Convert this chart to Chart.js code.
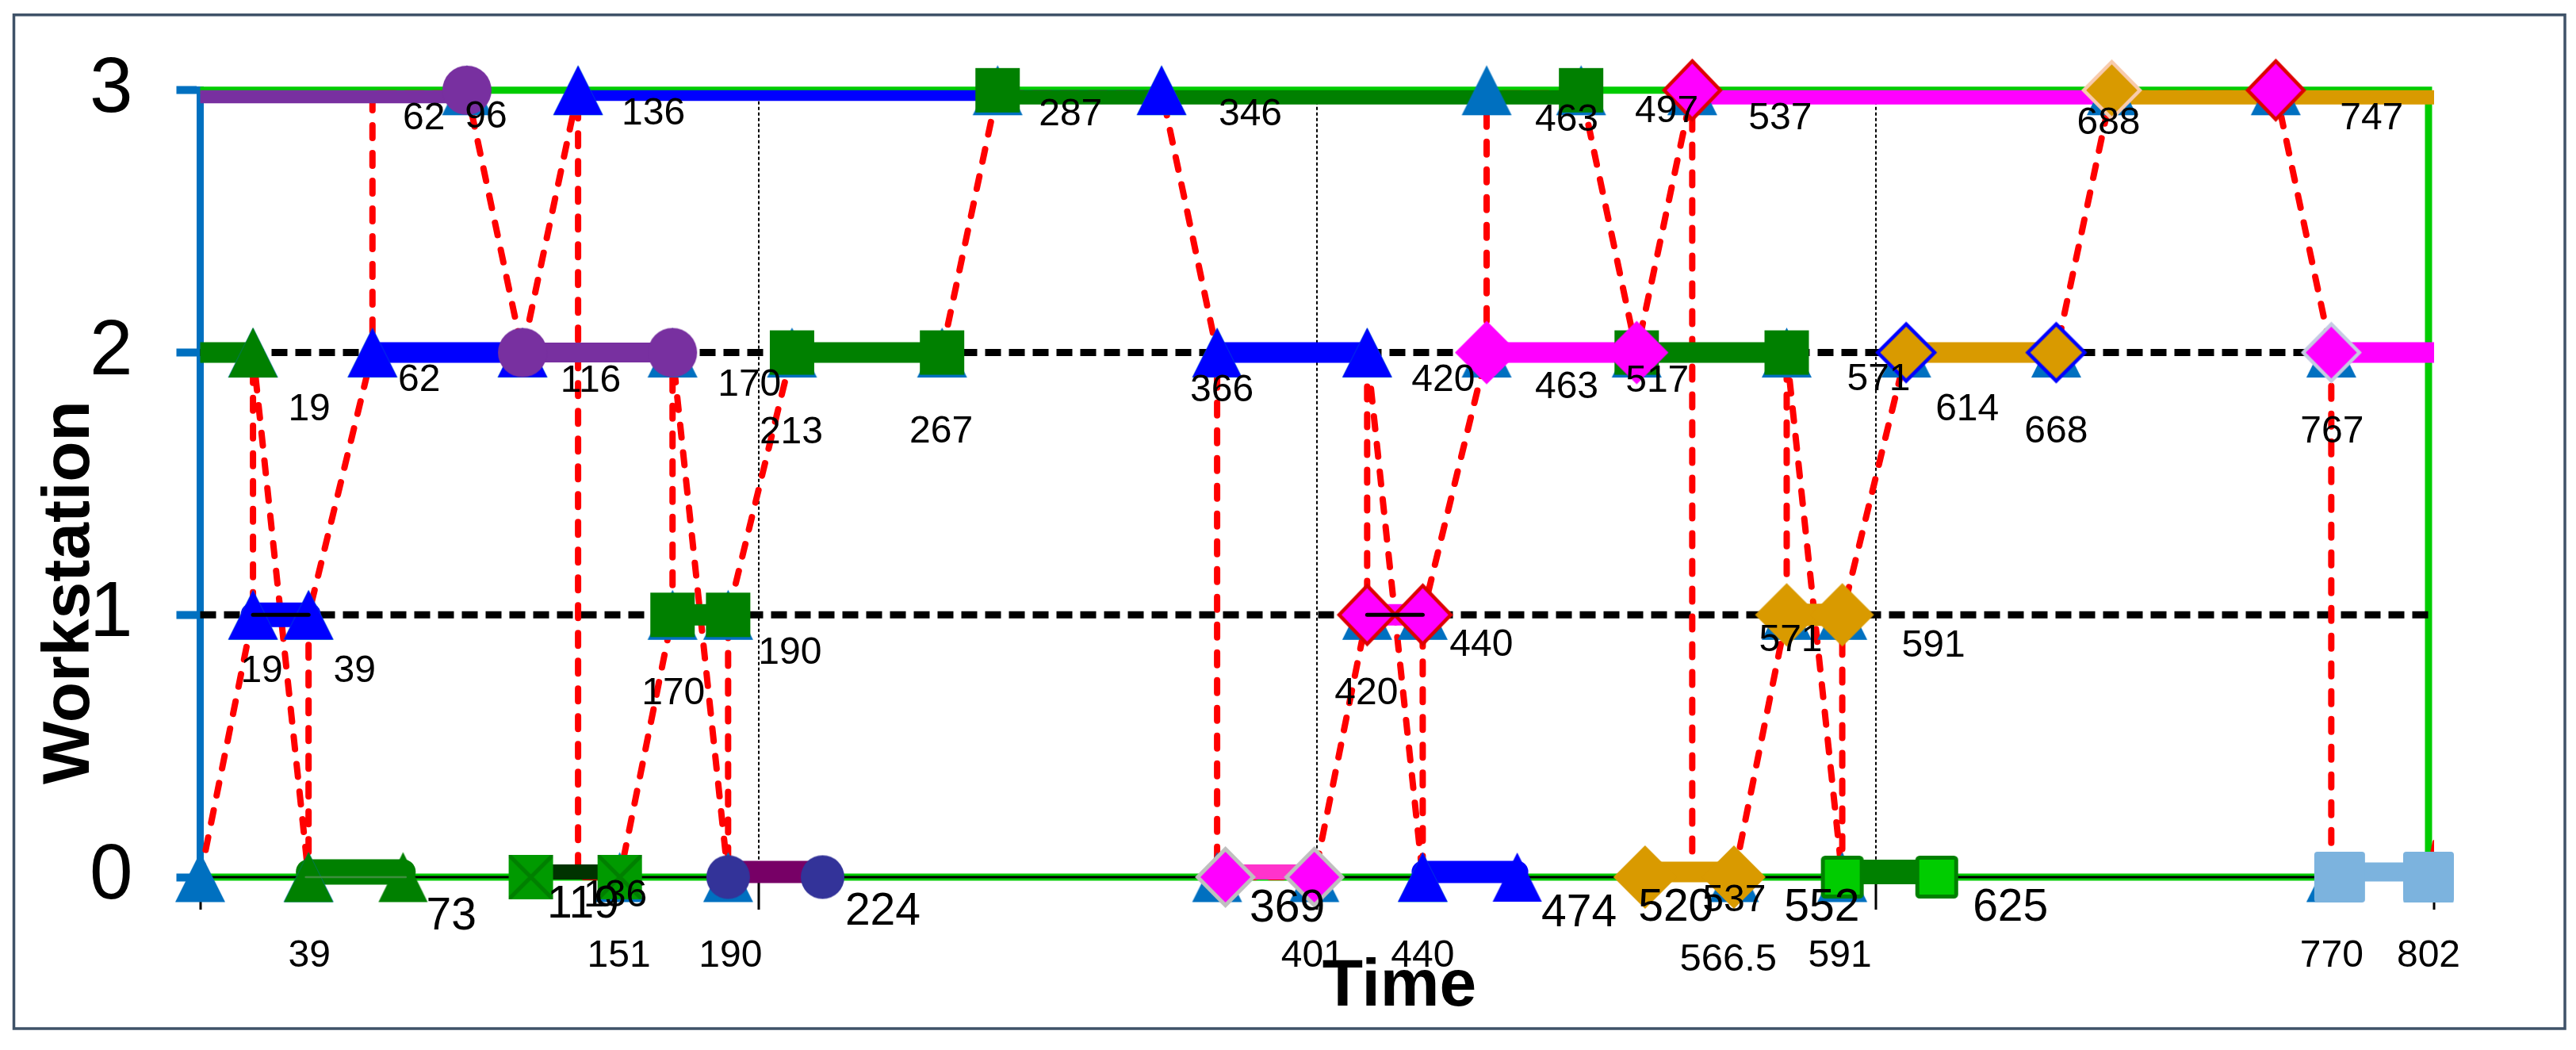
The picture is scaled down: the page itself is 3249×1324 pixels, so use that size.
<!DOCTYPE html>
<html>
<head>
<meta charset="utf-8">
<script src="https://cdn.jsdelivr.net/npm/chart.js@4.4.1/dist/chart.umd.min.js"></script>
<style>
html,body{margin:0;padding:0;background:#fff;}
#wrap{width:3249px;height:1324px;position:relative;}
</style>
</head>
<body>
<div id="wrap"><canvas id="c"></canvas></div>
<script>
// ================= DATA =================
const yTickLabels = ['0', '1', '2', '3'];
const xMin = 0, xMax = 804, xStep = 200;

// Robot route (red dashed path, triangle markers)
const robotTime    = [0, 19, 19, 39, 39, 62, 62, 96, 116, 136, 136, 151, 170, 170, 190, 190, 213, 267, 287, 346, 366, 366, 401, 420, 420, 440, 440, 463, 463, 497, 517, 537, 537, 552, 571, 571, 591, 591, 614, 668, 688, 747, 767, 767, 802, 821];
const robotStation = [0, 1, 2, 0, 1, 2, 3, 3, 2, 3, 0, 0, 1, 2, 0, 1, 2, 2, 3, 3, 2, 0, 0, 1, 2, 0, 1, 2, 3, 3, 2, 3, 0, 0, 1, 2, 0, 1, 2, 2, 3, 3, 2, 0, 0, 1];
const robotHasMarker = [1, 1, 1, 1, 1, 1, 0, 1, 1, 1, 0, 1, 1, 1, 1, 1, 1, 1, 1, 1, 1, 1, 1, 1, 1, 1, 1, 1, 1, 1, 1, 1, 0, 1, 1, 1, 1, 1, 1, 1, 1, 1, 1, 1, 1, 1];

// Processing bars (job on a workstation)
const barStart = [0, 136, 287, 537, 688,   0, 62, 116, 213, 366, 463, 517, 614, 767,   19, 170, 420, 571,   39, 119, 190, 369, 440, 520, 591, 770];
const barEnd   = [96, 346, 497, 688, 804,  19, 116, 170, 267, 420, 517, 571, 668, 804,  39, 190, 440, 591,   73, 151, 224, 401, 474, 552, 625, 802];
const barLevel = [3, 3, 3, 3, 3,  2, 2, 2, 2, 2, 2, 2, 2, 2,  1, 1, 1, 1,  0.02, 0.02, 0.02, 0.02, 0.02, 0.02, 0.02, 0.02];

// Job markers
const markTime    = [96, 136, 346, 287, 497, 537, 688, 747,
                     19, 62, 116, 116, 170, 213, 267, 366, 420, 463, 517, 517, 571, 614, 668, 767,
                     19, 39, 170, 190, 420, 440, 571, 591,
                     39, 73, 119, 151, 190, 224, 369, 401, 440, 474, 520, 552, 591, 625, 770, 802];
const markStation = [3, 3, 3, 3, 3, 3, 3, 3,
                     2, 2, 2, 2, 2, 2, 2, 2, 2, 2, 2, 2, 2, 2, 2, 2,
                     1, 1, 1, 1, 1, 1, 1, 1,
                     0, 0, 0, 0, 0, 0, 0, 0, 0, 0, 0, 0, 0, 0, 0, 0];

// Thin connecting lines
const thinStart = [19, 420, 38];
const thinEnd   = [39, 440, 74];
const thinLevel = [1, 1, 0];

// Frame (cycle) line and workstation guide lines
const frameTime    = [0, 802, 802, 0];
const frameStation = [3, 3, 0, 0];
const guideLevels  = [1, 2];
const guideStart = 0, guideEnd = 802;

// Data labels (text = time value), station of the labelled point
const labelText = ['62','96','136','287','346','463','497','537','688','747',
  '19','62','116','170','213','267','366','420','463','517','571','614','668','767',
  '19','39','170','190','420','440','571','591',
  '39','73','119','136','151','190','224','369','401','440','474','520','537','552','566.5','591','625','770','802'];
const labelStation = [3,3,3,3,3,3,3,3,3,3,
  2,2,2,2,2,2,2,2,2,2,2,2,2,2,
  1,1,1,1,1,1,1,1,
  0,0,0,0,0,0,0,0,0,0,0,0,0,0,0,0,0,0,0];

// ================= STYLE / LAYOUT =================
const barColor = ['#7830A0','#0000FF','#008000','#FF00FF','#D99A00',
  '#008000','#0000FF','#7830A0','#008000','#0000FF','#FF00FF','#008000','#D99A00','#FF00FF',
  '#0000FF','#008000','#FF00FF','#D99A00',
  '#008000','#003300','#770066','#FF33CC','#0000FF','#D99A00','#008000','#7CB3DE'];
const barWidth = [33, 27, 36, 36, 36,  26, 26, 25, 26, 26, 26, 26, 26, 26,  31, 27, 27, 28,  32, 19, 28, 19, 28, 26, 31, 24];

const markKind = ['circPurple','triBlue','triBlue','sqGreen','sqGreen','diaMagRed','diaGoldPink','diaMagRed',
  'triDkGreen','triBlue','triBlue','circPurple','circPurple','sqGreen','sqGreen','triBlue','triBlue','diaMag','sqGreen','diaMag','sqGreen','diaGoldBlue','diaGoldBlue','diaMagLav',
  'triBlue','triBlue','sqGreen','sqGreen','diaMagRed','diaMagRed','diaGold','diaGold',
  'triDkGreen','triDkGreen','sqX','sqX','circNavy','circNavy','diaMagGray','diaMagGray','triBlue','triBlue','diaGold','diaGold','sqLime','sqLime','sqLtBlue','sqLtBlue'];

const thinColor = ['#000000', '#000000', '#3E8E3E'];
const thinWidth = [5, 5, 2.5];

const labelDX = [65,24,95,92,112,101,108,111,-4,121,
  71,59,86,97,-1,-1,6,96,101,26,116,77,0,1,
  11,58,1,78,-1,74,5,115,
  1,61,66,47,-1,3,76,78,-2,0,78,39,53,111,-58,-3,93,-10,0];
const labelDY = [32,30,26.5,27,27,34.5,23.5,32.5,38.5,32.5,
  68,31,32,37,97,96.5,44,31,40,32,30,68,96,96,
  67.5,67.5,95.5,44.5,95.5,34.5,29,35.5,
  96,46,31,19.5,96,96,40,36,96,96,42,35,25.7,35,100,96,35,96,96];
const labelSize = [48,48,48,48,48,48,48,48,48,48,
  48,48,48,48,48,48,48,48,48,48,48,48,48,48,
  48,48,48,48,48,48,48,48,
  48,57,57,48,48,48,57,57,48,48,57,57,48,57,49,48,57,48,48];

const FONT = '"Liberation Sans", Arial, Helvetica, sans-serif';

// ---- marker images ----
function makeMarker(o) {
  const pad = 4;
  const c = document.createElement('canvas');
  c.width = Math.ceil(o.w + 2 * pad);
  c.height = Math.ceil(o.h + 2 * pad);
  const g = c.getContext('2d');
  const cx = c.width / 2, cy = c.height / 2;
  const lw = o.lw || 0;
  g.beginPath();
  if (o.shape === 'tri') {
    g.moveTo(cx, cy - o.h / 2);
    g.lineTo(cx + o.w / 2, cy + o.h / 2);
    g.lineTo(cx - o.w / 2, cy + o.h / 2);
    g.closePath();
  } else if (o.shape === 'dia') {
    const iw = o.w / 2 - lw * 0.7, ih = o.h / 2 - lw * 0.7;
    g.moveTo(cx, cy - ih); g.lineTo(cx + iw, cy); g.lineTo(cx, cy + ih); g.lineTo(cx - iw, cy);
    g.closePath();
  } else if (o.shape === 'circ') {
    g.ellipse(cx, cy, o.w / 2, o.h / 2, 0, 0, Math.PI * 2);
  } else if (o.shape === 'sq') {
    const iw = o.w - lw, ih = o.h - lw, r = o.r || 0;
    const x0 = cx - iw / 2, y0 = cy - ih / 2;
    if (g.roundRect) g.roundRect(x0, y0, iw, ih, r); else g.rect(x0, y0, iw, ih);
  }
  g.fillStyle = o.fill;
  g.fill();
  if (o.x) {
    g.save(); g.clip();
    g.beginPath();
    g.moveTo(cx - o.w / 2, cy - o.h / 2); g.lineTo(cx + o.w / 2, cy + o.h / 2);
    g.moveTo(cx + o.w / 2, cy - o.h / 2); g.lineTo(cx - o.w / 2, cy + o.h / 2);
    g.lineWidth = 5; g.strokeStyle = o.x; g.stroke();
    g.restore();
  }
  if (lw) {
    g.lineWidth = lw; g.strokeStyle = o.stroke; g.lineJoin = 'miter'; g.stroke();
  }
  return c;
}

const markerStyles = {
  triBase:     { img: makeMarker({shape:'tri', w:63, h:63, fill:'#0070C0'}), order: 50 },
  triBlue:     { img: makeMarker({shape:'tri', w:62, h:62, fill:'#0000FF'}), order: 46 },
  triDkGreen:  { img: makeMarker({shape:'tri', w:62, h:63, fill:'#008000'}), order: 46 },
  sqGreen:     { img: makeMarker({shape:'sq', w:56, h:56, fill:'#008000'}), order: 45 },
  sqX:         { img: makeMarker({shape:'sq', w:56, h:56, fill:'#009A00', x:'#007F00'}), order: 45 },
  sqLime:      { img: makeMarker({shape:'sq', w:54, h:54, fill:'#00CC00', stroke:'#008000', lw:5, r:3}), order: 45 },
  sqLtBlue:    { img: makeMarker({shape:'sq', w:64, h:64, fill:'#7CB3DE', r:4}), order: 45 },
  circPurple:  { img: makeMarker({shape:'circ', w:62, h:62, fill:'#7830A0'}), order: 44 },
  circNavy:    { img: makeMarker({shape:'circ', w:55, h:55, fill:'#333399'}), order: 44 },
  diaMag:      { img: makeMarker({shape:'dia', w:80, h:80, fill:'#FF00FF'}), order: 43 },
  diaMagRed:   { img: makeMarker({shape:'dia', w:77, h:80, fill:'#FF00FF', stroke:'#DD0000', lw:4.5}), order: 43 },
  diaMagGray:  { img: makeMarker({shape:'dia', w:77, h:78, fill:'#FF00FF', stroke:'#BFBFBF', lw:5}), order: 43 },
  diaMagLav:   { img: makeMarker({shape:'dia', w:77, h:78, fill:'#FF00FF', stroke:'#C5CAE3', lw:4.5}), order: 43 },
  diaGold:     { img: makeMarker({shape:'dia', w:80, h:80, fill:'#D99A00'}), order: 43 },
  diaGoldBlue: { img: makeMarker({shape:'dia', w:78, h:78, fill:'#D99A00', stroke:'#0000FF', lw:4.5}), order: 43 },
  diaGoldPink: { img: makeMarker({shape:'dia', w:77, h:78, fill:'#D99A00', stroke:'#F8CBAD', lw:4.5}), order: 43 }
};

// ================= DATASETS =================
const datasets = [];
const topClip = {left: 0, top: 0, right: 0, bottom: false};

// frame line
datasets.push({
  data: frameTime.map((t, i) => ({x: t, y: frameStation[i]})),
  borderColor: '#00CC00', borderWidth: 9, pointRadius: 0, borderJoinStyle: 'miter',
  clip: false, order: 100
});
// black axis line at station 0
datasets.push({
  data: [{x: guideStart, y: 0}, {x: guideEnd, y: 0}],
  borderColor: '#000000', borderWidth: 3, pointRadius: 0, clip: false, order: 95
});
// dashed guide lines
guideLevels.forEach(l => datasets.push({
  data: [{x: guideStart, y: l}, {x: guideEnd, y: l}],
  borderColor: '#000000', borderWidth: 9, borderDash: [20, 10], pointRadius: 0,
  clip: false, order: 90
}));
// robot path
datasets.push({
  data: robotTime.map((t, i) => ({x: t, y: robotStation[i]})),
  borderColor: '#FF0000', borderWidth: 8, borderDash: [16, 19], borderCapStyle: 'round',
  borderJoinStyle: 'round', pointRadius: 0, clip: topClip, order: 80
});
// bars
barStart.forEach((s, i) => datasets.push({
  data: [{x: s, y: barLevel[i]}, {x: barEnd[i], y: barLevel[i]}],
  borderColor: barColor[i], borderWidth: barWidth[i], borderCapStyle: 'round',
  pointRadius: 0, clip: topClip, order: 70 - i * 0.01
}));
// robot triangle markers
datasets.push({
  data: robotTime.map((t, i) => ({x: t, y: robotStation[i]})),
  showLine: false, pointStyle: markerStyles.triBase.img,
  pointRadius: ctx => robotHasMarker[ctx.dataIndex] ? 30 : 0,
  pointBorderWidth: 0, clip: false, order: markerStyles.triBase.order
});
// job markers grouped by kind
Object.keys(markerStyles).filter(k => k !== 'triBase').forEach(k => {
  const pts = [];
  markTime.forEach((t, i) => { if (markKind[i] === k) pts.push({x: t, y: markStation[i]}); });
  if (!pts.length) return;
  datasets.push({
    data: pts, showLine: false, pointStyle: markerStyles[k].img,
    pointRadius: 30, pointBorderWidth: 0, clip: false, order: markerStyles[k].order
  });
});
// thin lines on top
thinStart.forEach((s, i) => datasets.push({
  data: [{x: s, y: thinLevel[i]}, {x: thinEnd[i], y: thinLevel[i]}],
  borderColor: thinColor[i], borderWidth: thinWidth[i], borderCapStyle: 'round',
  pointRadius: 0, clip: false, order: 10
}));

// ================= PLUGINS =================
const paperPlugin = {
  id: 'paper',
  beforeDraw(chart) {
    const {ctx} = chart;
    ctx.save();
    ctx.fillStyle = '#FFFFFF';
    ctx.fillRect(0, 0, chart.width, chart.height);
    ctx.restore();
  },
  afterDraw(chart) {
    const {ctx} = chart;
    ctx.save();
    ctx.strokeStyle = '#3F5268';
    ctx.lineWidth = 3.5;
    ctx.strokeRect(17.5, 18.75, 3217.5, 1278.25);
    ctx.restore();
  }
};

const labelPlugin = {
  id: 'pointLabels',
  afterDatasetsDraw(chart) {
    const {ctx} = chart;
    const xs = chart.scales.x, ys = chart.scales.y;
    ctx.save();
    ctx.fillStyle = '#000000';
    ctx.textAlign = 'center';
    ctx.textBaseline = 'alphabetic';
    labelText.forEach((txt, i) => {
      const size = labelSize[i];
      ctx.font = size + 'px ' + FONT;
      const px = xs.getPixelForValue(Number(txt)) + labelDX[i];
      const py = ys.getPixelForValue(labelStation[i]) + labelDY[i] + 0.358 * size;
      ctx.fillText(txt, px, py);
    });
    // axis titles
    ctx.font = 'bold 84px ' + FONT;
    ctx.fillText('Time', 1765, 1268);
    ctx.translate(112, 747);
    ctx.rotate(-Math.PI / 2);
    ctx.fillText('Workstation', 0, 0);
    ctx.restore();
  }
};

// ================= CHART =================
new Chart(document.getElementById('c'), {
  type: 'line',
  data: { datasets },
  options: {
    responsive: true,
    maintainAspectRatio: false,
    animation: false,
    devicePixelRatio: 1,
    events: [],
    layout: { padding: { left: 0, right: 179, top: 108.5, bottom: 0 } },
    plugins: { legend: { display: false }, tooltip: { enabled: false }, title: { display: false } },
    scales: {
      x: {
        type: 'linear', min: xMin, max: xMax,
        afterFit: s => { s.height = 218; },
        ticks: { display: false, stepSize: xStep, includeBounds: false },
        grid: {
          color: c => (c.tick && (c.tick.value <= 0 || c.tick.value >= 800)) ? 'rgba(0,0,0,0)' : '#000000',
          lineWidth: 2, tickColor: '#000000', tickWidth: 3, tickLength: 41, tickBorderDash: []
        },
        border: { display: false, dash: [4, 3] }
      },
      y: {
        type: 'linear', min: 0, max: 3,
        afterFit: s => { s.width = 252.5; },
        ticks: {
          stepSize: 1, color: '#000000', padding: 55,
          font: { size: 98, family: FONT },
          callback: v => yTickLabels[v]
        },
        grid: { drawOnChartArea: false, color: '#0070C0', tickColor: '#0070C0', tickWidth: 10, tickLength: 30 },
        border: { display: true, color: '#0070C0', width: 9 }
      }
    }
  },
  plugins: [paperPlugin, labelPlugin]
});
</script>
</body>
</html>
